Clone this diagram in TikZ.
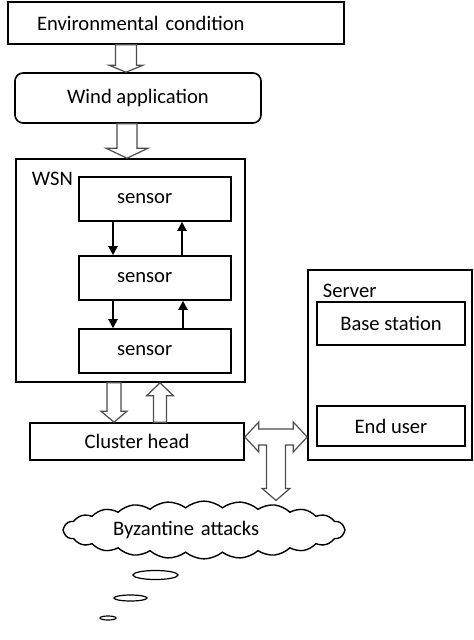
\documentclass[tikz,border=0pt]{standalone}
\usepackage{fontspec}
\setmainfont{Carlito}
\usetikzlibrary{calc,arrows.meta,shapes.symbols}

\begin{document}
\begin{tikzpicture}[x=0.5pt, y=-0.5pt, font=\fontsize{10.3}{12}\selectfont, line width=0.8pt,
    box/.style = {draw, rectangle, inner sep=0pt},
    rbox/.style = {draw, rectangle, rounded corners=4pt, inner sep=0pt},
    sensor/.style = {draw, rectangle, inner ysep=0pt, inner xsep=19pt, text width=38pt, align=left, minimum height=22pt},
    link/.style = {-{Triangle[length=4.5pt, width=4.5pt]}, line width=1pt},
    shaftw/.store in=\shaftw, headw/.store in=\headw, headl/.store in=\headl,
    shaftw=5pt, headw=9pt, headl=5pt,
    hollow/.style = {draw=black!70, fill=white, line width=0.6pt,
        to path={let \p1=(\tikztostart), \p2=(\tikztotarget), \p3=($(\p2)!\headl!(\p1)$) in
            (\x1-\shaftw,\y1) -- (\x1-\shaftw,\y3) -- (\x1-\headw,\y3) -- (\x1,\y2)
            -- (\x1+\headw,\y3) -- (\x1+\shaftw,\y3) -- (\x1+\shaftw,\y1) -- cycle}}]
    \useasboundingbox (0,0) rectangle (474,640);
    % boxes
    \node[box, minimum width=168pt, minimum height=21pt, inner xsep=14.5pt, text width=139pt, align=left] (env) at (176,23) {Environmental condition};
    \node[rbox, minimum width=123pt, minimum height=25pt] (wind) at (138,98) {Wind application};
    \node[box, minimum width=114.5pt, minimum height=111.5pt] (wsn) at (130.5,270.5) {};
    \node[anchor=west, inner sep=0pt] (wsnlabel) at (31,179) {WSN};
    \node[sensor] (s1) at (155,199) {sensor};
    \node[sensor] (s2) at (155,278) {sensor};
    \node[sensor] (s3) at (155,351) {sensor};
    \node[box, minimum width=107pt, minimum height=18.5pt] (cluster) at (137,441.5) {Cluster head};
    \node[box, minimum width=82pt, minimum height=95pt] (server) at (390,365) {};
    \node[anchor=west, inner sep=0pt] (serverlabel) at (322,291) {Server};
    \node[box, minimum width=74pt, minimum height=21.5pt] (base) at (391,323.5) {Base station};
    \node[box, minimum width=74pt, minimum height=20pt] (user) at (391,426) {End user};
    \node[cloud, draw, line width=0.7pt, cloud puffs=24, cloud puff arc=80, aspect=5.6, minimum width=141pt, minimum height=24pt, inner sep=0pt, text width=91pt, align=left] (attack) at (204,530) {Byzantine attacks};
    % sensor links
    \draw[link] (s1.south -| 113,0) -- (s2.north -| 113,0);
    \draw[link] (s2.north -| 182,0) -- (s1.south -| 182,0);
    \draw[link] (s2.south -| 113,0) -- (s3.north -| 113,0);
    \draw[link] (s3.north -| 183,0) -- (s2.south -| 183,0);
    % block arrows
    \draw[hollow, shaftw=5.25pt, headw=8.5pt, headl=3.5pt] (env.south -| 126,0) to (wind.north -| 126,0);
    \draw[hollow, shaftw=5pt, headw=10.5pt, headl=5pt] (wind.south -| 127,0) to (wsn.north -| 127,0);
    \draw[hollow, shaftw=3.5pt, headw=6.5pt, headl=5.5pt] (wsn.south -| 114,0) to (cluster.north -| 114,0);
    \draw[hollow, shaftw=3.25pt, headw=6.75pt, headl=6.5pt] (cluster.north -| 160,0) to (wsn.south -| 160,0);
    \draw[draw=black!70, fill=white, line width=0.6pt] let \p1=(cluster.east), \p2=(server.west |- cluster.east),
        \p3=($(\p1)!0.5!(\p2)+(0,2.25pt)$), \p4=(attack.north) in
        (\x1,\y3) -- (\x1+7pt,\y3+7.5pt) -- (\x1+7pt,\y3+4pt) -- (\x2-7pt,\y3+4pt) -- (\x2-7pt,\y3+7.5pt)
        -- (\x2,\y3) -- (\x2-7pt,\y3-7.5pt) -- (\x2-7pt,\y3-4pt) -- (\x3+4.75pt,\y3-4pt) -- (\x3+4.75pt,\y4+6pt)
        -- (\x3+7pt,\y4+6pt) -- (\x3,\y4) -- (\x3-7pt,\y4+6pt) -- (\x3-4.75pt,\y4+6pt) -- (\x3-4.75pt,\y3-4pt)
        -- (\x1+7pt,\y3-4pt) -- (\x1+7pt,\y3-7.5pt) -- cycle;
    % thought bubbles
    \draw[line width=0.6pt] (155.5,575) ellipse [x radius=11.25pt, y radius=2.25pt];
    \draw[line width=0.6pt] (130.5,598) ellipse [x radius=8.25pt, y radius=1.5pt];
    \draw[line width=0.6pt] (108,618) ellipse [x radius=4pt, y radius=1pt];
\end{tikzpicture}
\end{document}
